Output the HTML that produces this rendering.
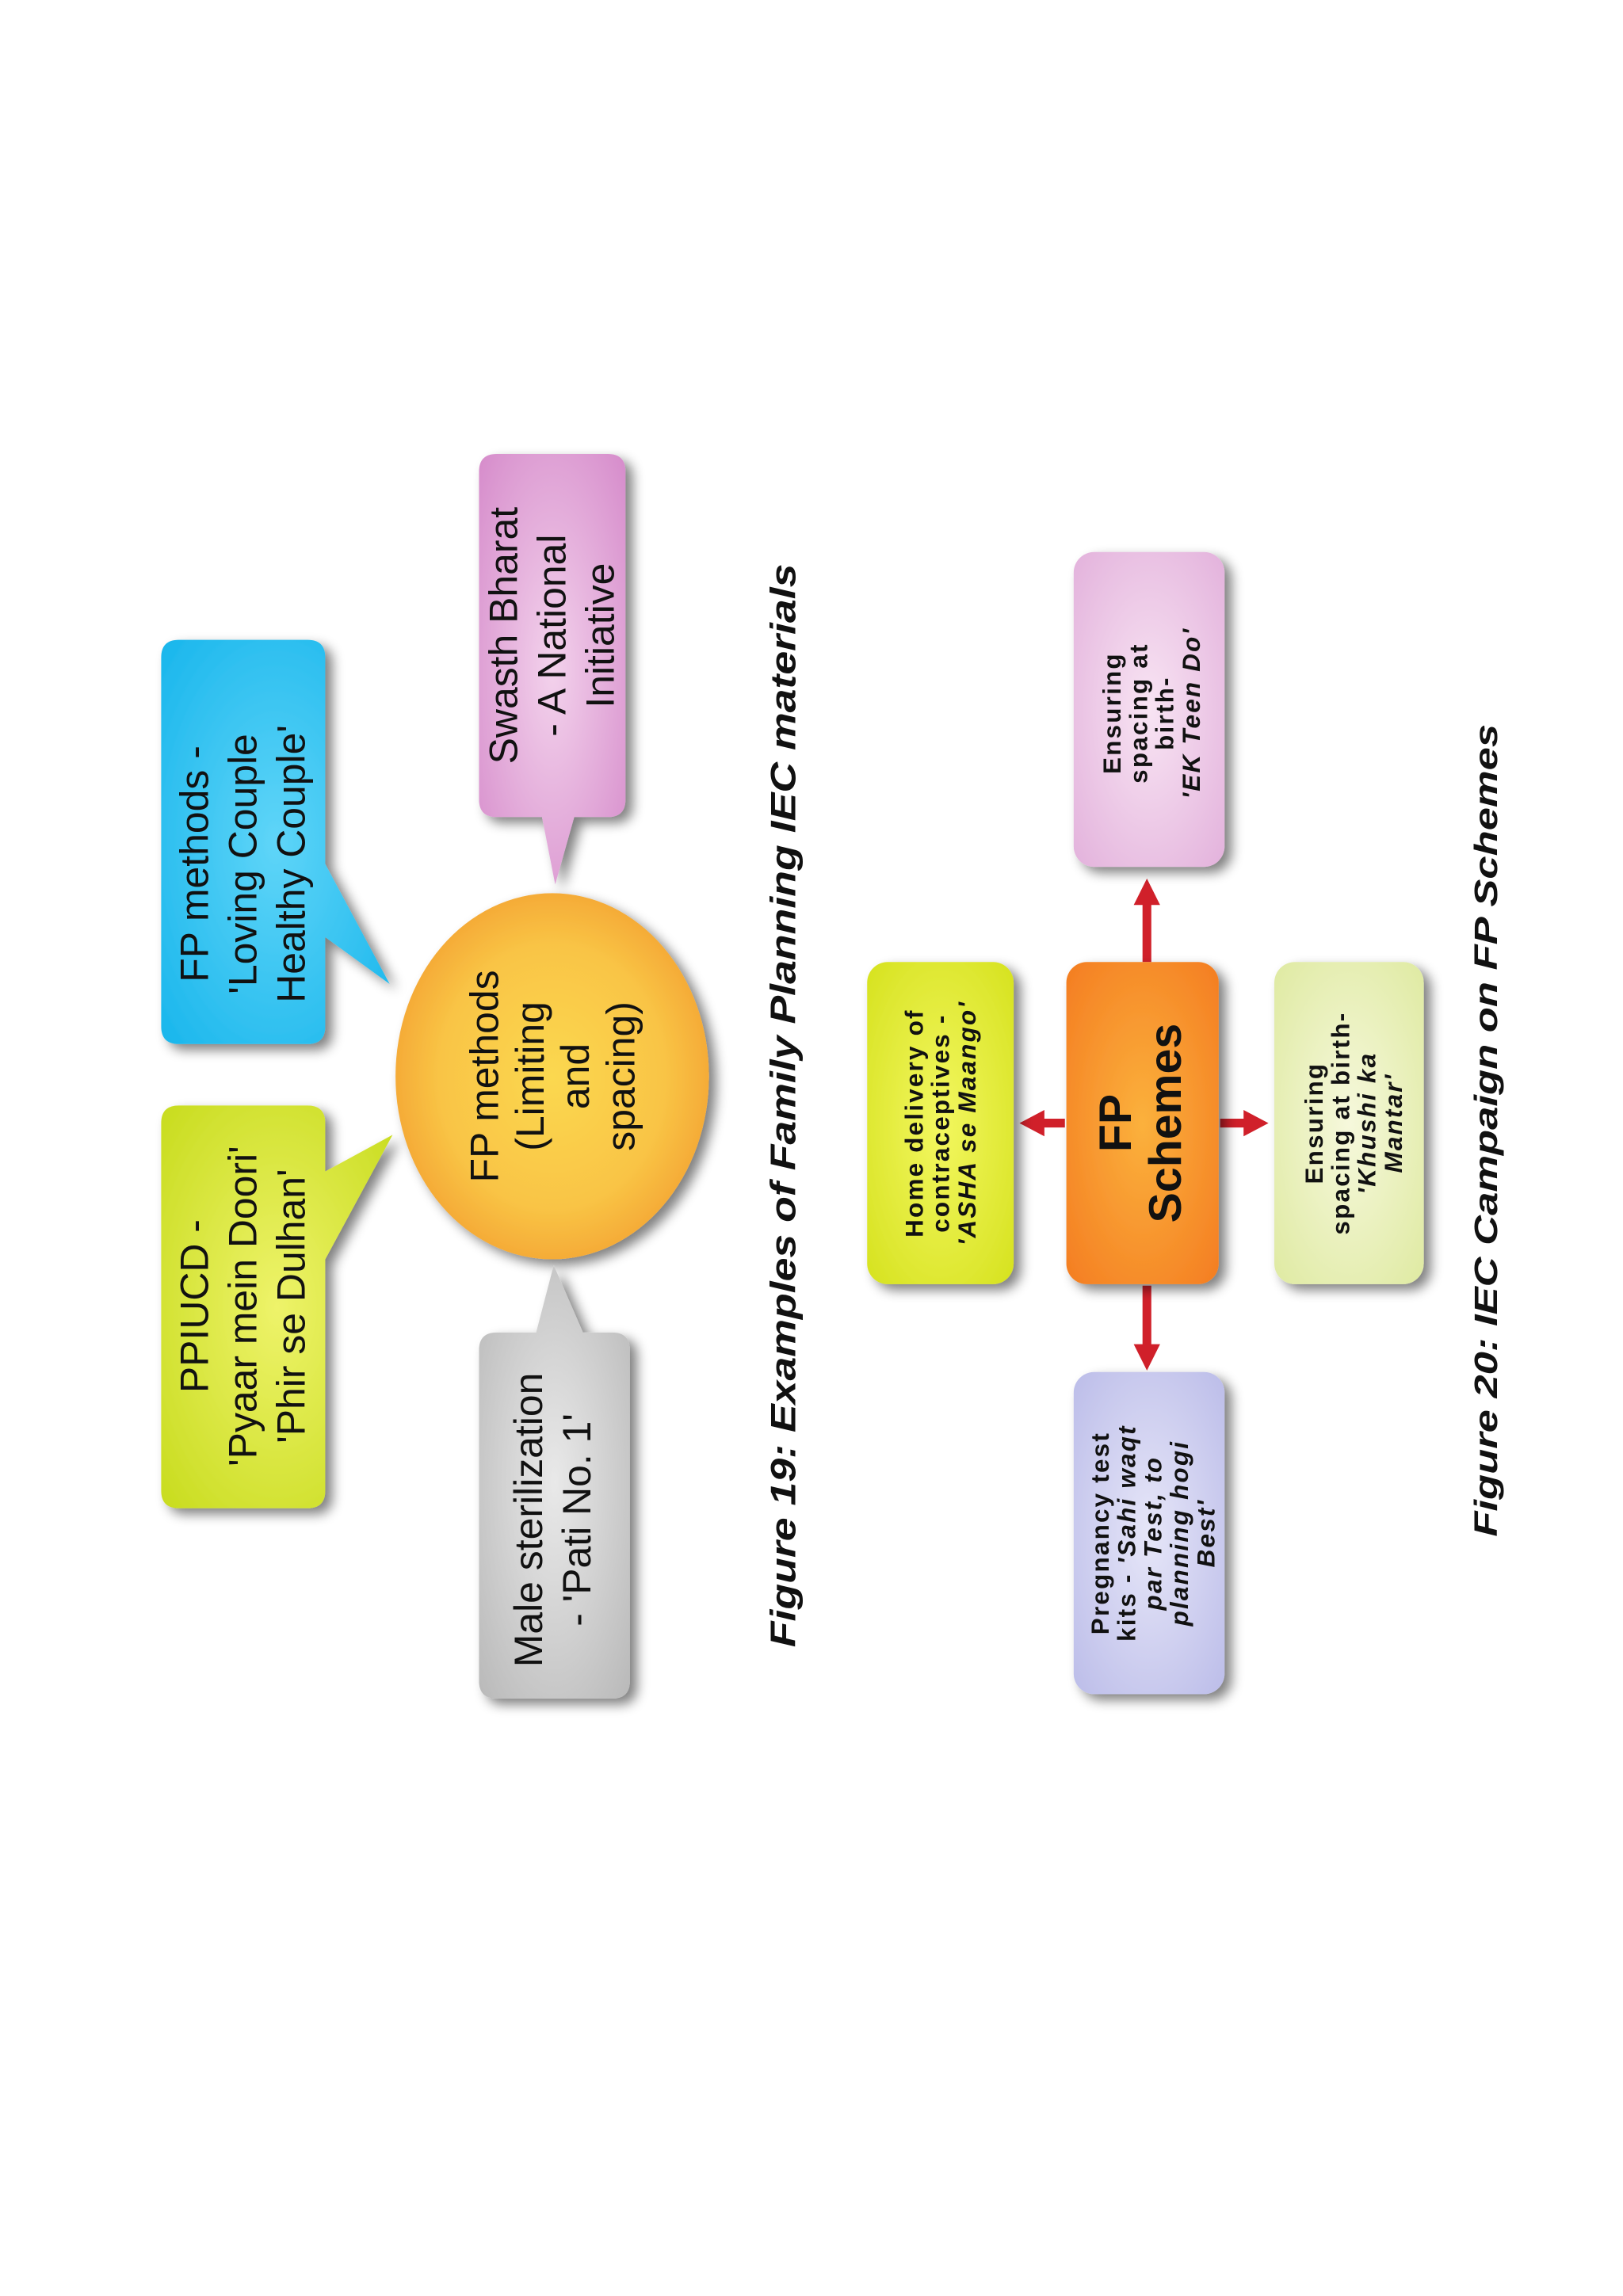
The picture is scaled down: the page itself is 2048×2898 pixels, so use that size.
<!DOCTYPE html>
<html><head><meta charset="utf-8"><style>
html,body{margin:0;padding:0;background:#fff;}
svg{display:block;}
text{font-family:"Liberation Sans",sans-serif;fill:#111;}
</style></head><body>
<svg width="2048" height="2898" viewBox="0 0 1108 1568" xmlns="http://www.w3.org/2000/svg">
<defs>
<filter id="sh" x="-20%" y="-20%" width="150%" height="150%"><feGaussianBlur in="SourceAlpha" stdDeviation="4"/><feOffset dx="5" dy="4"/><feComponentTransfer><feFuncA type="linear" slope="0.5"/></feComponentTransfer><feMerge><feMergeNode/><feMergeNode in="SourceGraphic"/></feMerge></filter>
<radialGradient id="gG" cx="50%" cy="50%" r="70%"><stop offset="0" stop-color="#eef36a"/><stop offset="1" stop-color="#c8dc1e"/></radialGradient>
<radialGradient id="gB" cx="50%" cy="50%" r="70%"><stop offset="0" stop-color="#5fd5f8"/><stop offset="1" stop-color="#19b6ec"/></radialGradient>
<radialGradient id="gP" cx="50%" cy="50%" r="70%"><stop offset="0" stop-color="#f3d2ec"/><stop offset="1" stop-color="#d68ccb"/></radialGradient>
<radialGradient id="gS" cx="50%" cy="50%" r="70%"><stop offset="0" stop-color="#e9e9e9"/><stop offset="1" stop-color="#b9b9b9"/></radialGradient>
<radialGradient id="gO" cx="50%" cy="50%" r="60%"><stop offset="0" stop-color="#fbd850"/><stop offset="0.6" stop-color="#f9c445"/><stop offset="1" stop-color="#f29a2e"/></radialGradient>
<radialGradient id="gY" cx="50%" cy="50%" r="70%"><stop offset="0" stop-color="#f3f760"/><stop offset="1" stop-color="#d6e21f"/></radialGradient>
<radialGradient id="gC" cx="50%" cy="50%" r="70%"><stop offset="0" stop-color="#fbb13c"/><stop offset="1" stop-color="#f47d22"/></radialGradient>
<radialGradient id="gL" cx="50%" cy="50%" r="70%"><stop offset="0" stop-color="#f6f8dc"/><stop offset="1" stop-color="#dfeaa2"/></radialGradient>
<radialGradient id="gK" cx="50%" cy="50%" r="70%"><stop offset="0" stop-color="#f8e4f3"/><stop offset="1" stop-color="#e3b2dc"/></radialGradient>
<radialGradient id="gV" cx="50%" cy="50%" r="70%"><stop offset="0" stop-color="#e6e6f8"/><stop offset="1" stop-color="#bcbde9"/></radialGradient>
</defs>

<!-- Figure 19 -->
<g filter="url(#sh)">
<path d="M122,755 H210 Q222,755 222,767 V800 L268,775 L222,860 V1018 Q222,1030 210,1030 H122 Q110,1030 110,1018 V767 Q110,755 122,755 Z" fill="url(#gG)"/>
<path d="M122,437 H210 Q222,437 222,449 V590 L266,672 L222,640 V701 Q222,713 210,713 H122 Q110,713 110,701 V449 Q110,437 122,437 Z" fill="url(#gB)"/>
<path d="M339,310 H415 Q427,310 427,322 V546 Q427,558 415,558 H392 L379,604 L370,558 H339 Q327,558 327,546 V322 Q327,310 339,310 Z" fill="url(#gP)"/>
<path d="M339,910 H366 L378,864 L398,910 H418 Q430,910 430,922 V1148 Q430,1160 418,1160 H339 Q327,1160 327,1148 V922 Q327,910 339,910 Z" fill="url(#gS)"/>
<ellipse cx="377" cy="735" rx="107" ry="125" fill="url(#gO)"/>
</g>
<g font-size="27">
<text transform="translate(166,892) rotate(-90)" text-anchor="middle"><tspan x="0" dy="-24">PPIUCD -</tspan><tspan x="0" dy="33">'Pyaar mein Doori'</tspan><tspan x="0" dy="33">'Phir se Dulhan'</tspan></text>
<text transform="translate(166,590) rotate(-90)" text-anchor="middle"><tspan x="0" dy="-24">FP methods -</tspan><tspan x="0" dy="33">'Loving Couple</tspan><tspan x="0" dy="33">Healthy Couple'</tspan></text>
<text transform="translate(377,434) rotate(-90)" text-anchor="middle"><tspan x="0" dy="-24">Swasth Bharat</tspan><tspan x="0" dy="33">- A National</tspan><tspan x="0" dy="33">Initiative</tspan></text>
<text transform="translate(378,1038) rotate(-90)" text-anchor="middle"><tspan x="0" dy="-8">Male sterilization</tspan><tspan x="0" dy="33">- 'Pati No. 1'</tspan></text>
<text transform="translate(380,735) rotate(-90)" text-anchor="middle"><tspan x="0" dy="-40">FP methods</tspan><tspan x="0" dy="31">(Limiting</tspan><tspan x="0" dy="31">and</tspan><tspan x="0" dy="31">spacing)</tspan></text>
</g>
<text x="-755" y="543" transform="rotate(-90)" text-anchor="middle" font-size="24" font-weight="bold" font-style="italic" textLength="740" lengthAdjust="spacingAndGlyphs">Figure 19: Examples of Family Planning IEC materials</text>

<!-- Figure 20 -->
<g stroke="#d0202a" stroke-width="6" fill="#d0202a">
<line x1="783" y1="657" x2="783" y2="616"/><polygon points="774,618 792,618 783,600" stroke="none"/>
<line x1="783" y1="878" x2="783" y2="920"/><polygon points="774,918 792,918 783,936" stroke="none"/>
<line x1="727" y1="767" x2="712" y2="767"/><polygon points="713,758 713,776 696,767" stroke="none"/>
<line x1="833" y1="767" x2="850" y2="767"/><polygon points="849,758 849,776 866,767" stroke="none"/>
</g>
<g filter="url(#sh)">
<rect x="592" y="657" width="100" height="220" rx="14" fill="url(#gY)"/>
<rect x="728" y="657" width="104" height="220" rx="14" fill="url(#gC)"/>
<rect x="870" y="657" width="102" height="220" rx="14" fill="url(#gL)"/>
<rect x="733" y="377" width="103" height="215" rx="14" fill="url(#gK)"/>
<rect x="733" y="937" width="103" height="220" rx="14" fill="url(#gV)"/>
</g>
<g font-size="17" font-weight="bold" letter-spacing="1.2">
<text transform="translate(642,767) rotate(-90)" text-anchor="middle"><tspan x="0" dy="-12">Home delivery of</tspan><tspan x="0" dy="18">contraceptives -</tspan><tspan x="0" dy="18" font-style="italic">'ASHA se Maango'</tspan></text>
<text transform="translate(921,767) rotate(-90)" text-anchor="middle"><tspan x="0" dy="-18">Ensuring</tspan><tspan x="0" dy="18">spacing at birth-</tspan><tspan x="0" dy="18" font-style="italic">'Khushi ka</tspan><tspan x="0" dy="18" font-style="italic">Mantar'</tspan></text>
<text transform="translate(785,487) rotate(-90)" text-anchor="middle"><tspan x="0" dy="-20">Ensuring</tspan><tspan x="0" dy="18">spacing at</tspan><tspan x="0" dy="18">birth-</tspan><tspan x="0" dy="18" font-style="italic">'EK Teen Do'</tspan></text>
<text transform="translate(785,1047) rotate(-90)" text-anchor="middle"><tspan x="0" dy="-28">Pregnancy test</tspan><tspan x="0" dy="18">kits - <tspan font-style="italic">'Sahi waqt</tspan></tspan><tspan x="0" dy="18" font-style="italic">par Test, to</tspan><tspan x="0" dy="18" font-style="italic">planning hogi</tspan><tspan x="0" dy="18" font-style="italic">Best'</tspan></text>
</g>
<text transform="translate(780,767) rotate(-90)" text-anchor="middle" font-size="31" font-weight="bold"><tspan x="0" dy="-8">FP</tspan><tspan x="0" dy="34">Schemes</tspan></text>
<text x="-772" y="1022" transform="rotate(-90)" text-anchor="middle" font-size="22" font-weight="bold" font-style="italic" textLength="555" lengthAdjust="spacingAndGlyphs">Figure 20: IEC Campaign on FP Schemes</text>
</svg>
</body></html>
